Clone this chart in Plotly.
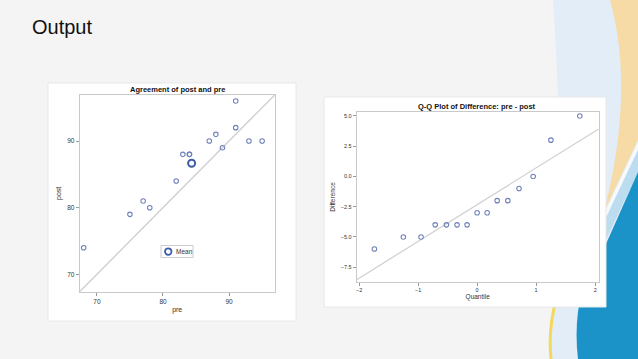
import plotly.graph_objects as go

W, H = 638, 359

# ---------------- data ----------------
pre = [91, 91, 87, 88, 89, 93, 95, 83, 84, 84, 82, 77, 78, 75, 68]
post = [96, 92, 90, 91, 89, 90, 90, 88, 88, 88, 84, 81, 80, 79, 74]
agree_ticks = [70, 80, 90]
agree_range = [67.4, 96.9]

qq_quantile = [-1.74, -1.25, -0.95, -0.71, -0.52, -0.34, -0.17, 0.0,
               0.17, 0.34, 0.52, 0.71, 0.95, 1.25, 1.74]
qq_diff = [-6, -5, -5, -4, -4, -4, -4, -3, -3, -2, -2, -1, 0, 3, 5]
qq_xticks = [-2, -1, 0, 1, 2]
qq_yticks = [-7.5, -5.0, -2.5, 0.0, 2.5, 5.0]
qq_xrange = [-2.04, 2.06]
qq_yrange = [-8.7, 5.3]

# derived statistics
n = len(pre)
mean_pre = sum(pre) / n
mean_post = sum(post) / n
m = sum(qq_diff) / len(qq_diff)
sd = (sum((d - m) ** 2 for d in qq_diff) / (len(qq_diff) - 1)) ** 0.5


def px(x):
    return x / W


def py(y):
    return 1 - y / H


def path(cmds):
    out = []
    for c, pts in cmds:
        if c == "L":
            for (x, y) in pts:
                out.append(f"L {px(x):.5f},{py(y):.5f}")
            continue
        s = c
        for (x, y) in pts:
            s += f" {px(x):.5f},{py(y):.5f}"
        out.append(s)
    return " ".join(out)


PT_COLOR = "#6f81b9"
MEAN_COLOR = "#3b5ca8"
FRAME = "#c9c9c9"
TICKC = "#333333"
FONT = "Liberation Sans, Arial, sans-serif"

fig = go.Figure()

# diagonal line y = x
fig.add_trace(go.Scatter(x=agree_range, y=agree_range, mode="lines",
                         line=dict(color="#cfcfcf", width=1.4),
                         xaxis="x", yaxis="y", showlegend=False, hoverinfo="skip"))
fig.add_trace(go.Scatter(x=pre, y=post, mode="markers",
                         marker=dict(symbol="circle-open", size=4.5, color=PT_COLOR,
                                     line=dict(width=1.1, color=PT_COLOR)),
                         xaxis="x", yaxis="y", showlegend=False))
fig.add_trace(go.Scatter(x=[mean_pre], y=[mean_post], mode="markers", name="Mean",
                         marker=dict(symbol="circle-open", size=7, color=MEAN_COLOR,
                                     line=dict(width=2, color=MEAN_COLOR)),
                         xaxis="x", yaxis="y", showlegend=False))

# Q-Q plot
fig.add_trace(go.Scatter(x=qq_xrange, y=[m + sd * q for q in qq_xrange], mode="lines",
                         line=dict(color="#cfcfcf", width=1.2),
                         xaxis="x2", yaxis="y2", showlegend=False, hoverinfo="skip"))
fig.add_trace(go.Scatter(x=qq_quantile, y=qq_diff, mode="markers",
                         marker=dict(symbol="circle-open", size=4.5, color=PT_COLOR,
                                     line=dict(width=1.1, color=PT_COLOR)),
                         xaxis="x2", yaxis="y2", showlegend=False))

axis_common = dict(showgrid=False, zeroline=False, showline=True, mirror=True,
                   linecolor=FRAME, linewidth=1, ticks="outside", ticklen=3,
                   tickcolor="#999999", tickfont=dict(size=6.5, color=TICKC, family=FONT))

shapes = []
# decorative right edge
shapes.append(dict(type="path", xref="paper", yref="paper", layer="below",
                   path=path([("M", [(553, 0)]), ("Q", [(566, 180), (550, 359)]),
                              ("L", [(638, 359), (638, 0)]), ("Z", [])]),
                   fillcolor="#e2edf7", line=dict(width=0)))
shapes.append(dict(type="path", xref="paper", yref="paper", layer="below",
                   path=path([("M", [(610, 0)]), ("Q", [(635, 90), (604, 212)]),
                              ("L", [(638, 140), (638, 0)]), ("Z", [])]),
                   fillcolor="#f6dba6", line=dict(width=0)))
shapes.append(dict(type="path", xref="paper", yref="paper", layer="below",
                   path=path([("M", [(604, 214)]), ("L", [(638, 142), (638, 150), (604, 222)]), ("Z", [])]),
                   fillcolor="#f7fafd", line=dict(width=0)))
shapes.append(dict(type="path", xref="paper", yref="paper", layer="below",
                   path=path([("M", [(604, 222)]), ("L", [(638, 150), (638, 172), (604, 244)]), ("Z", [])]),
                   fillcolor="#bcdcef", line=dict(width=0)))
shapes.append(dict(type="path", xref="paper", yref="paper", layer="below",
                   path=path([("M", [(578, 359)]), ("Q", [(570, 290), (606, 244)]),
                              ("L", [(638, 172), (638, 359)]), ("Z", [])]),
                   fillcolor="#1b93c8", line=dict(width=0)))
shapes.append(dict(type="path", xref="paper", yref="paper", layer="below",
                   path=path([("M", [(556, 300)]), ("Q", [(548, 330), (551, 359)])]),
                   line=dict(color="#f2d95e", width=3)))
# white chart panels
shapes.append(dict(type="rect", xref="paper", yref="paper", layer="below",
                   x0=px(48), x1=px(296), y0=py(321), y1=py(83),
                   fillcolor="white", line=dict(color="#e8e8e8", width=1)))
shapes.append(dict(type="rect", xref="paper", yref="paper", layer="below",
                   x0=px(324), x1=px(606), y0=py(307), y1=py(97),
                   fillcolor="white", line=dict(color="#e8e8e8", width=1)))
# legend key box for "Mean"
shapes.append(dict(type="rect", xref="paper", yref="paper", layer="above",
                   x0=px(161), x1=px(193), y0=py(257.5), y1=py(245.5),
                   fillcolor="white", line=dict(color="#cccccc", width=1)))
shapes.append(dict(type="circle", xref="paper", yref="paper", layer="above",
                   x0=px(165), x1=px(171.5), y0=py(254.8), y1=py(248.3),
                   fillcolor="rgba(0,0,0,0)", line=dict(color=MEAN_COLOR, width=1.8)))

annotations = [
    dict(text="Output", x=px(30), y=py(27), xref="paper", yref="paper",
         xanchor="left", yanchor="middle", showarrow=False,
         font=dict(size=20, color="#111111", family=FONT)),
    dict(text="<b>Agreement of post and pre</b>", x=px(177.5), y=py(89.5),
         xref="paper", yref="paper", xanchor="center", yanchor="middle", showarrow=False,
         font=dict(size=7.5, color="#111111", family=FONT)),
    dict(text="<b>Q-Q Plot of Difference: pre - post</b>", x=px(477), y=py(107),
         xref="paper", yref="paper", xanchor="center", yanchor="middle", showarrow=False,
         font=dict(size=7.5, color="#111111", family=FONT)),
    dict(text="Mean", x=px(174), y=py(251.5), xref="paper", yref="paper",
         xanchor="left", yanchor="middle", showarrow=False,
         font=dict(size=6.5, color=TICKC, family=FONT)),
]

fig.update_layout(
    width=W, height=H, margin=dict(l=0, r=0, t=0, b=0),
    paper_bgcolor="#f4f4f4", plot_bgcolor="white",
    font=dict(family=FONT), showlegend=False,
    xaxis=dict(axis_common, domain=[px(79.7), px(274.7)], range=agree_range,
               tickvals=agree_ticks, anchor="y",
               title=dict(text="pre", font=dict(size=7, color=TICKC), standoff=3)),
    yaxis=dict(axis_common, domain=[py(291.7), py(95)], range=agree_range,
               tickvals=agree_ticks, anchor="x",
               title=dict(text="post", font=dict(size=7, color=TICKC), standoff=4)),
    xaxis2=dict(axis_common, domain=[px(356.7), px(598.7)], range=qq_xrange,
                tickvals=qq_xticks, anchor="y2", tickfont=dict(size=5.5, color=TICKC),
                title=dict(text="Quantile", font=dict(size=6.5, color=TICKC), standoff=2)),
    yaxis2=dict(axis_common, domain=[py(281.7), py(112.3)], range=qq_yrange,
                tickvals=qq_yticks, tickformat=".1f", anchor="x2",
                tickfont=dict(size=5.5, color=TICKC),
                title=dict(text="Difference", font=dict(size=6.5, color=TICKC), standoff=4)),
    shapes=shapes, annotations=annotations,
)

fig.write_html("out.html", config={"displayModeBar": False},
               post_script="document.body.style.margin='0';document.body.style.padding='0';"
                           "document.body.style.overflow='hidden';")
